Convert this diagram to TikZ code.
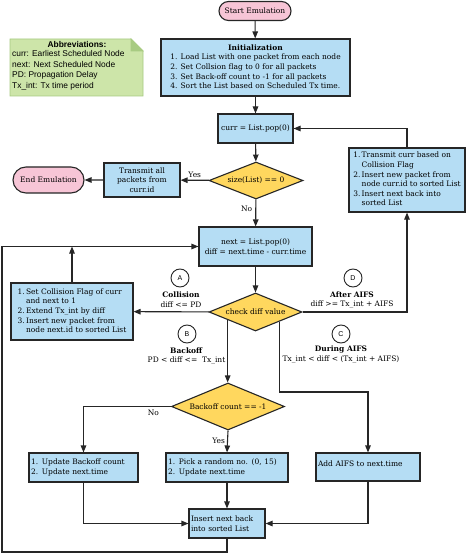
\documentclass[tikz,border=0pt]{standalone}
\usepackage{fontspec}
\setmainfont{DejaVu Serif}
\newfontfamily\sansf{Liberation Sans}
\usetikzlibrary{shapes.geometric,shapes.misc,arrows.meta}
\definecolor{bluef}{HTML}{B5DDF4}
\definecolor{yelf}{HTML}{FFD75E}
\definecolor{pinkf}{HTML}{F7C5D6}
\definecolor{greenf}{HTML}{CDE5A9}
\definecolor{greend}{HTML}{A8CB82}
\definecolor{linec}{HTML}{262626}
\tikzset{
  base/.style={draw=linec, line width=1.1pt, font=\fontsize{7.5}{9.6}\selectfont},
  procbox/.style={base, rectangle, fill=bluef, inner sep=2pt},
  lbox/.style={procbox, align=left, text width=#1, minimum width=#1+4pt},
  decbox/.style={base, diamond, fill=yelf, aspect=2.5, inner sep=1pt},
  termbox/.style={base, rounded rectangle, fill=pinkf, inner sep=2pt},
  arr/.style={draw=linec, line width=1.1pt, -{Triangle[length=7pt,width=5.5pt]}},
  lbl/.style={font=\fontsize{7.5}{9.6}\selectfont, inner sep=0pt},
  circ/.style={draw=linec, line width=0.9pt, circle, fill=white, minimum size=18pt, inner sep=0pt, font=\sansf\fontsize{7}{8}\selectfont},
}
\begin{document}
\begin{tikzpicture}[x=1pt,y=-1pt]
\fill[white] (0,0) rectangle (474,553);
\useasboundingbox (0,0) rectangle (474,553);

% abbreviation note
\filldraw[fill=greenf, draw=greend, line width=0.8pt] (10,39) -- (131,39) -- (143,51) -- (143,96) -- (10,96) -- cycle;
\filldraw[fill=greend, draw=greend, line width=0.8pt] (131,39) -- (131,51) -- (143,51) -- cycle;
\node[inner sep=0pt, font=\sansf\bfseries\fontsize{8.4}{10.4}\selectfont] (abbrt) at (77,45) {Abbreviations:};
\node[inner sep=0pt, anchor=west, align=left, font=\sansf\fontsize{8.4}{10.6}\selectfont] (abbrl) at (12,70.5)
  {curr: Earliest Scheduled Node\\next: Next Scheduled Node\\PD: Propagation Delay\\Tx\_int: Tx time period};

% nodes
\node[termbox, minimum width=76pt, minimum height=19pt] (start) at (255,11) {Start Emulation};
\node[procbox, minimum width=189pt, minimum height=57pt, align=left] (init) at (255.5,67.5)
  {\begin{tabular}{@{}l@{}}\multicolumn{1}{@{}c@{}}{\textbf{Initialization}}\\
   1. Load List with one packet from each node\\
   2. Set Collsion flag to 0 for all packets\\
   3. Set Back-off count to -1 for all packets\\
   4. Sort the List based on Scheduled Tx time.\end{tabular}};
\node[procbox, minimum width=75pt, minimum height=29pt] (curr) at (255.5,128.5) {curr = List.pop(0)};
\node[decbox, minimum width=94pt, minimum height=37pt] (size) at (256,180.5) {size(List) == 0};
\node[procbox, minimum width=76pt, minimum height=34pt, align=center] (trans) at (142,180)
  {Transmit all\\packets from\\curr.id};
\node[termbox, minimum width=75pt, minimum height=26pt] (endE) at (48.5,180) {End Emulation};
\node[procbox, minimum width=116pt, minimum height=64pt, align=left] (rbox) at (407,180)
  {\begin{tabular}{@{}l@{\,}l@{}}1.&Transmit curr based on\\&Collision Flag\\
   2.&Insert new packet from\\&node curr.id to sorted List\\
   3.&Insert next back into\\&sorted List\end{tabular}};
\node[procbox, minimum width=113pt, minimum height=39pt, align=center] (next) at (255.5,246.5)
  {next = List.pop(0)\\diff = next.time - curr.time};
\node[decbox, minimum width=93pt, minimum height=38pt] (check) at (255.5,312) {check diff value};
\node[procbox, minimum width=122pt, minimum height=57pt, align=left] (coll) at (72,311.5)
  {\begin{tabular}{@{}l@{\,}l@{}}1.&Set Collision Flag of curr\\&and next to 1\\
   2.&Extend Tx\_int by diff\\
   3.&Insert new packet from\\&node next.id to sorted List\end{tabular}};
\node[decbox, minimum width=113pt, minimum height=47pt] (bc) at (228,406.5) {Backoff count == -1};
\node[lbox=105pt, minimum height=29pt] (upd) at (83.5,467.5)
  {1. Update Backoff count\\2. Update next.time};
\node[lbox=118pt, minimum height=29pt] (pick) at (227,467.5)
  {1. Pick a random no. (0, 15)\\2. Update next.time};
\node[lbox=100pt, minimum height=28pt] (aifs) at (368,467)
  {Add AIFS to next.time\\[-2pt]\mbox{}};
\node[lbox=72pt, minimum height=29pt] (ins) at (227,523.5)
  {Insert next back\\into sorted List};

% circles and condition labels
\node[circ] (cA) at (180,278) {A};
\node[lbl, align=center] (tA) at (181,300) {\textbf{Collision}\\diff <= PD};
\node[circ] (cB) at (187,334) {B};
\node[lbl, align=center] (tB) at (186.5,356) {\textbf{Backoff}\\PD < diff <=\ \ Tx\_int};
\node[circ] (cD) at (353,278) {D};
\node[lbl, align=center] (tD) at (352,300) {\textbf{After AIFS}\\diff >= Tx\_int + AIFS};
\node[circ] (cC) at (341,334) {C};
\node[lbl, align=center] (tC) at (341,354.5) {\textbf{During AIFS}\\Tx\_int < diff < (Tx\_int + AIFS)};

% helper coordinates
\coordinate (aifsturn) at (368,392);
\coordinate (lb) at (2,552);

% connectors
\draw[arr] (start) -- (init);
\draw[arr] (init) -- (curr);
\draw[arr] (curr) -- (size);
\draw[arr] (size) -- node[lbl, above, yshift=2pt] (yes1) {Yes} (trans);
\draw[arr] (trans) -- (endE);
\draw[arr] (size) -- node[lbl, left, xshift=-3pt, pos=0.35] (no1) {No} (next);
\draw[arr] (next) -- (check);
\draw[arr] (check) -- (coll);
\draw[arr] (coll.north) -- (coll.north |- next.west);
\draw[arr] (check.east) -| (rbox.south);
\draw[arr] (rbox.north) |- (curr.east);
\draw[arr] (check.196) -- (check.196 |- bc.north);
\draw[arr] (check.338) |- (aifsturn) -- (aifs.north);
\draw[arr] (bc.west) -| node[lbl, pos=0.1, below, yshift=-3pt] (no2) {No} (upd.north);
\draw[arr] (bc.south) -- node[lbl, left, pos=0.45, xshift=-2pt] (yes2) {Yes} (pick.north);
\draw[arr] (upd.south) |- (ins.west);
\draw[arr] (pick.south) -- (ins.north);
\draw[arr] (aifs.south) |- (ins.east);
\draw[arr] (ins.south) |- (lb) |- (next.west);
\end{tikzpicture}
\end{document}
